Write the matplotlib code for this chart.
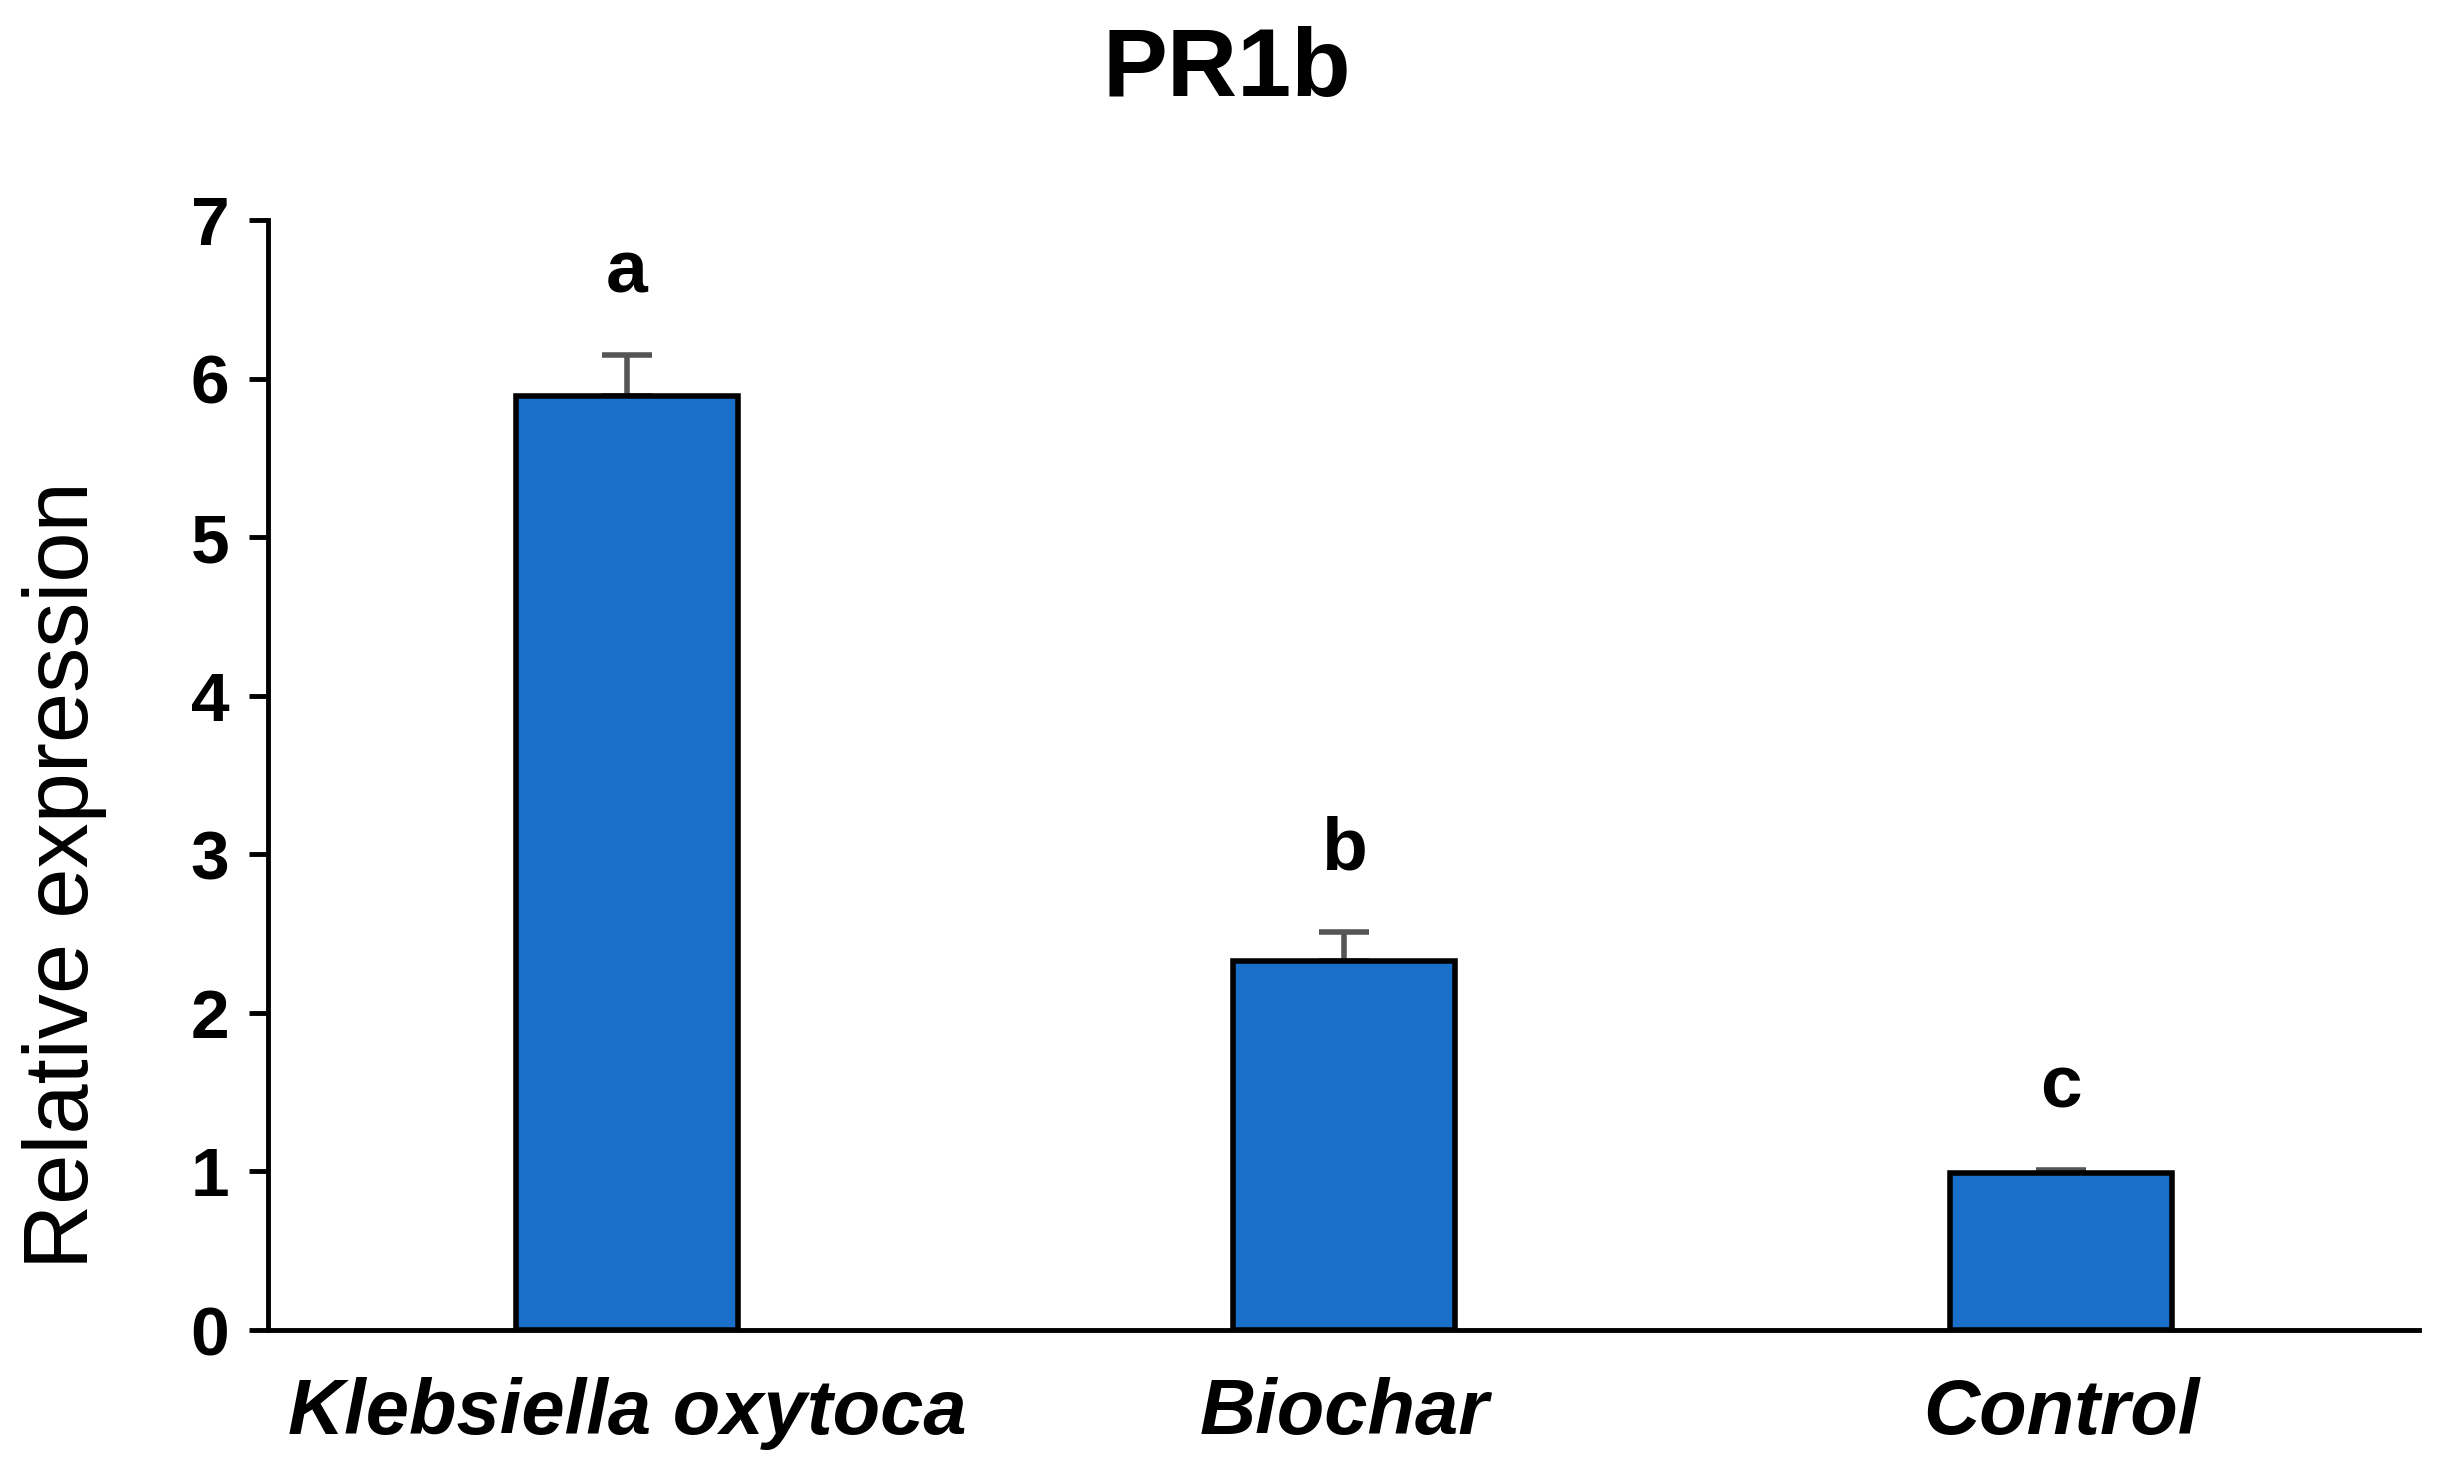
import numpy as np
import matplotlib.pyplot as plt

plt.rcParams['font.family'] = ['Liberation Sans', 'DejaVu Sans']

categories = ['Klebsiella oxytoca', 'Biochar', 'Control']
values = [5.89, 2.33, 0.99]
errors = [0.26, 0.18, 0.02]
letters = ['a', 'b', 'c']

fig = plt.figure(figsize=(24.39, 14.68), dpi=100)
ax = fig.add_axes([0.110, 0.094, 0.882, 0.756])

x = np.arange(len(categories))
ax.bar(x, values, width=0.31, color='#1a70c8', edgecolor='black', linewidth=4, zorder=2)
ax.errorbar(x, values, yerr=[np.zeros(len(errors)), errors], fmt='none',
            ecolor='#555555', elinewidth=4, capsize=18, capthick=4, zorder=1)

for xi, v, e, l in zip(x, values, errors, letters):
    ax.text(xi, v + e + 0.3, l, ha='center', va='bottom', fontsize=54, fontweight='bold')

ax.set_xlim(-0.5, 2.5)
ax.set_ylim(0, 7)
ax.set_yticks(range(0, 8))
ax.set_xticks(x)
ax.set_xticklabels(categories, fontsize=56, fontweight='bold', fontstyle='italic')
ax.tick_params(axis='x', length=0, pad=34)
ax.tick_params(axis='y', labelsize=50, width=3.5, length=14, pad=14)
for lab in ax.get_yticklabels():
    lab.set_fontweight('bold')

ax.spines['top'].set_visible(False)
ax.spines['right'].set_visible(False)
ax.spines['left'].set_linewidth(3.5)
ax.spines['bottom'].set_linewidth(3.5)

ax.set_ylabel('Relative expression', fontsize=65)
ax.yaxis.set_label_coords(-0.075, 0.41)
fig.suptitle('PR1b', fontsize=70, fontweight='bold', x=0.503, y=0.982)

fig.savefig('out.png', dpi=100)
